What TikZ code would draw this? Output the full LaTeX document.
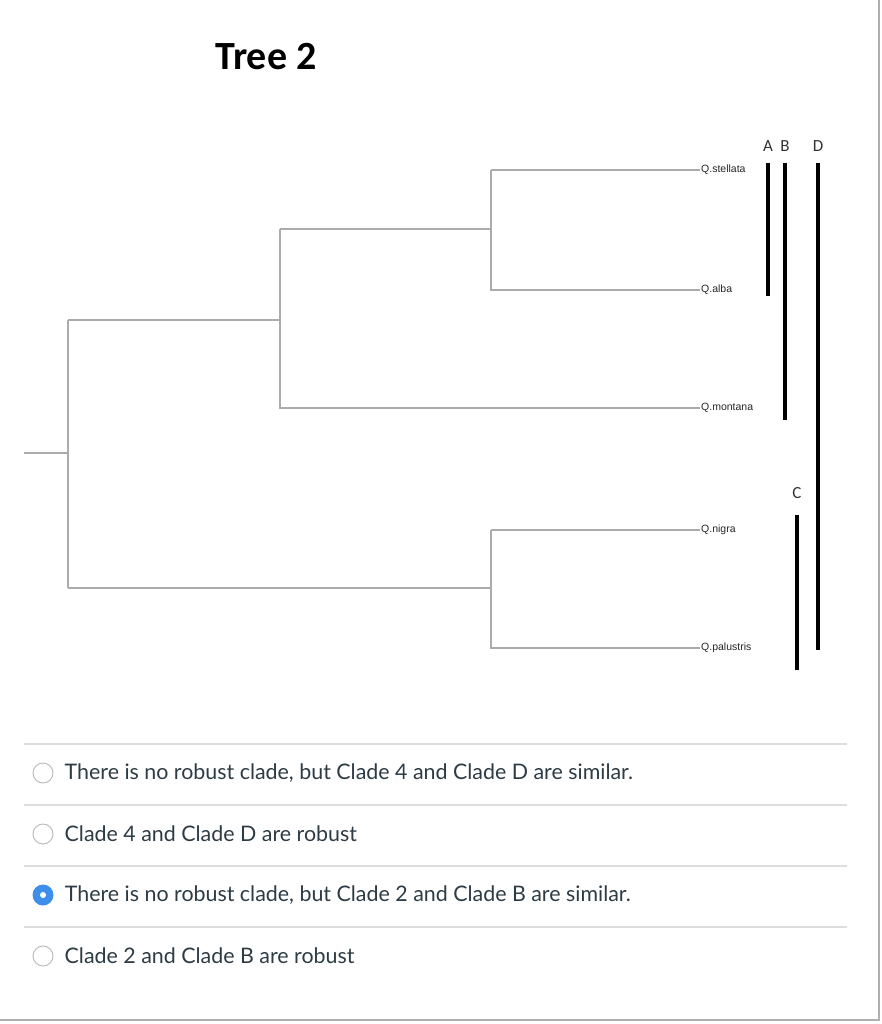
\documentclass[tikz,border=0pt]{standalone}
\usepackage{fontspec}
\usepackage{xcolor}
\usetikzlibrary{positioning,calc}
\setmainfont{Lato}
\newfontfamily\titlefont{Carlito}
\newfontfamily\leaffont{Liberation Sans}
\definecolor{TreeGray}{HTML}{ABABAB}
\definecolor{RuleGray}{HTML}{DDDDDD}
\definecolor{FrameGray}{HTML}{AFAFAF}
\definecolor{RadioGray}{HTML}{BDBDBD}
\definecolor{RadioBlue}{HTML}{3D8FEA}
\definecolor{AnswerInk}{HTML}{2D3B45}

\begin{document}
\begin{tikzpicture}[
  x=1pt, y=-1pt,
  branch/.style={draw=TreeGray, line width=2pt},
  leaf/.style={font=\leaffont\fontsize{10.5}{10.5}\selectfont, text=black!85, anchor=west, inner sep=1pt},
  cladebar/.style={line width=3.6pt, black},
  cladetag/.style={font=\titlefont\fontsize{17}{17}\selectfont, text=black!80, inner sep=0pt},
  answer/.style={font=\fontsize{21.4}{22}\selectfont, text=AnswerInk, anchor=west, inner sep=0pt},
  radio/.style={circle, draw=RadioGray, line width=1pt, fill=white, minimum size=20pt, inner sep=0pt},
  picked/.style={circle, fill=RadioBlue, minimum size=21pt, inner sep=0pt},
  divider/.style={draw=RuleGray, line width=1.6pt}
]
\useasboundingbox (0,0) rectangle (881,1024);

% title
\node[font=\titlefont\bfseries\fontsize{40}{40}\selectfont] (title) at (266,57) {Tree 2};

% tips of the tree
\node[leaf] (stellata) at (700,170) {Q.stellata};
\node[leaf] (alba) at (700,290) {Q.alba};
\node[leaf] (montana) at (700,408) {Q.montana};
\node[leaf] (nigra) at (700,530) {Q.nigra};
\node[leaf] (palustris) at (700,648) {Q.palustris};

% internal nodes
\coordinate (root) at (24,453);
\coordinate (n1) at (68,453);
\coordinate (n2) at (280,320);
\coordinate (n3) at (491,229);
\coordinate (n4) at (491,588);

\draw[branch] (root) -- (n1);
\draw[branch] (n1 |- n2) -- (n1 |- n4);
\draw[branch] (n1 |- n2) -- (n2);
\draw[branch] (n1 |- n4) -- (n4);
\draw[branch] (n2 |- n3) -- (n2 |- montana.west) -- (montana.west);
\draw[branch] (n2 |- n3) -- (n3);
\draw[branch] (n3 |- stellata.west) -- (stellata.west);
\draw[branch] (n3 |- stellata.west) -- (n3 |- alba.west) -- (alba.west);
\draw[branch] (n4 |- nigra.west) -- (nigra.west);
\draw[branch] (n4 |- nigra.west) -- (n4 |- palustris.west) -- (palustris.west);

% clade bars
\node[cladetag] (tagA) at (768,146) {A};
\node[cladetag] (tagB) at (785,146) {B};
\node[cladetag] (tagD) at (818,146) {D};
\node[cladetag] (tagC) at (797,493) {C};
\draw[cladebar] ($(tagA)+(0,17)$) -- ++(0,133);
\draw[cladebar] ($(tagB)+(0,17)$) -- ++(0,257);
\draw[cladebar] ($(tagD)+(0,17)$) -- ++(0,487);
\draw[cladebar] ($(tagC)+(0,22)$) -- ++(0,155);

% answer list
\foreach \y in {744,805,866,927}
  \draw[divider] (24,\y) -- (847,\y);

\node[radio] (r1) at (43,773) {};
\node[radio] (r2) at (43,834) {};
\node[picked] (r3) at (43,895) {};
\node[circle, fill=white, minimum size=6pt, inner sep=0pt] (r3dot) at (r3) {};
\node[radio] (r4) at (43,956) {};

\node[answer, right=11pt of r1] (a1) {There is no robust clade, but Clade 4 and Clade D are similar.};
\node[answer, right=11pt of r2] (a2) {Clade 4 and Clade D are robust};
\node[answer, right=11pt of r3] (a3) {There is no robust clade, but Clade 2 and Clade B are similar.};
\node[answer, right=11pt of r4] (a4) {Clade 2 and Clade B are robust};

% frame
\draw[FrameGray, line width=2pt] (879,0) -- (879,1020) -- (0,1020);
\end{tikzpicture}
\end{document}
